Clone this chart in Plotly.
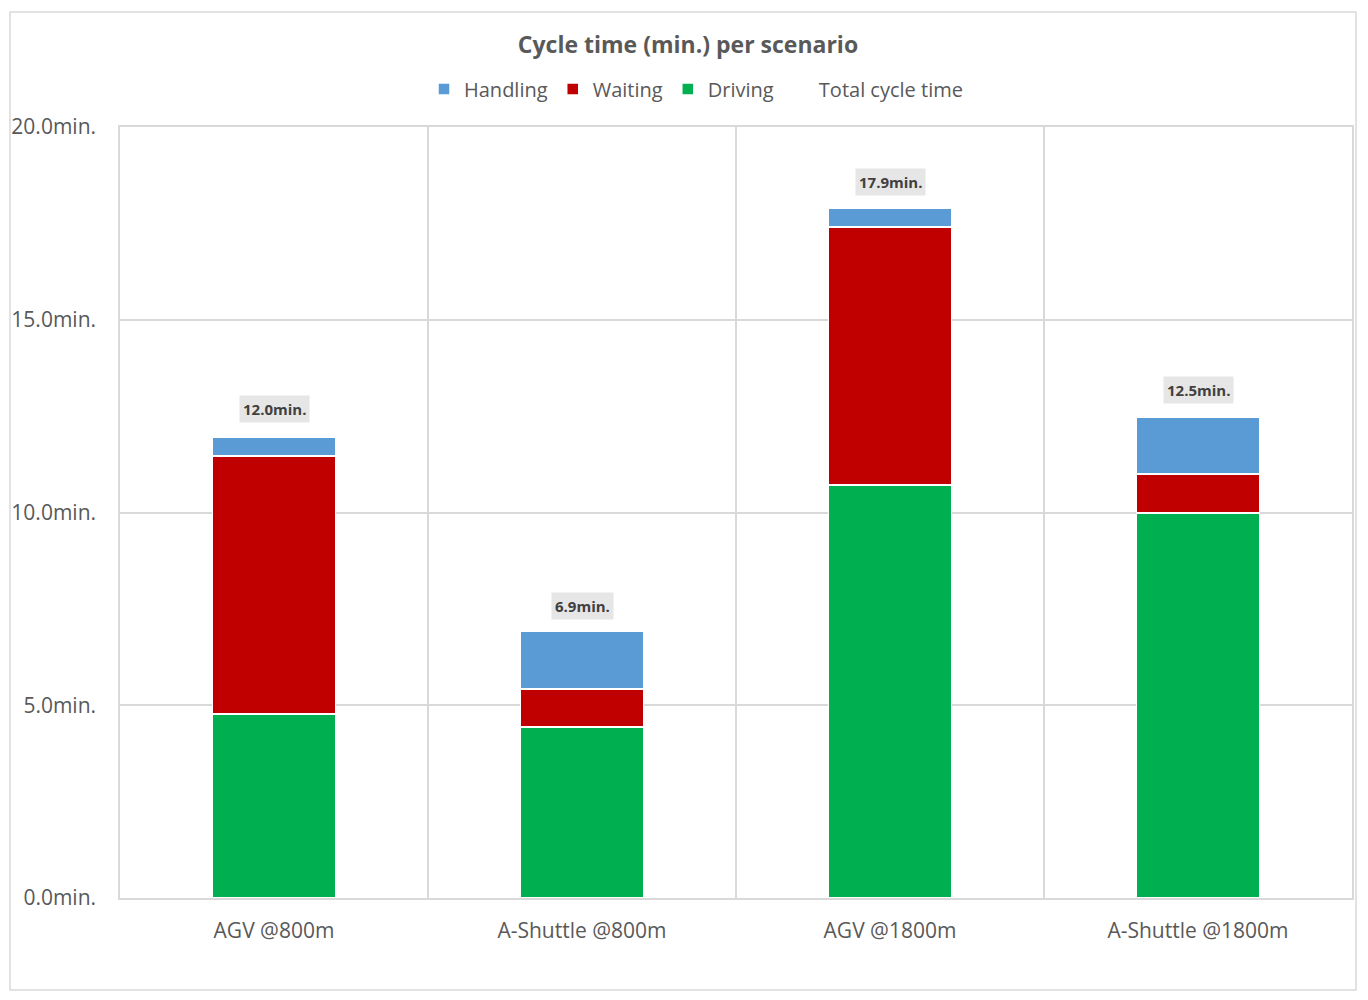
import plotly.graph_objects as go

categories = ["AGV @800m", "A-Shuttle @800m", "AGV @1800m", "A-Shuttle @1800m"]
driving = [4.77, 4.44, 10.71, 9.99]
waiting = [6.70, 0.98, 6.70, 1.01]
handling = [0.48, 1.50, 0.49, 1.48]
totals = [12.0, 6.9, 17.9, 12.5]
total_labels = ["12.0min.", "6.9min.", "17.9min.", "12.5min."]
y_ticks = [0, 5, 10, 15, 20]
y_tick_labels = ["0.0min.", "5.0min.", "10.0min.", "15.0min.", "20.0min."]

FONT = "Open Sans, sans-serif"
GREY = "#595959"
x = list(range(len(categories)))

fig = go.Figure()
fig.add_bar(x=x, y=driving, name="Driving", marker=dict(color="#00b050", line=dict(color="white", width=1.5)), width=0.4, legendrank=3)
fig.add_bar(x=x, y=waiting, name="Waiting", marker=dict(color="#c00000", line=dict(color="white", width=1.5)), width=0.4, legendrank=2)
fig.add_bar(x=x, y=handling, name="Handling", marker=dict(color="#5b9bd5", line=dict(color="white", width=1.5)), width=0.4, legendrank=1)
fig.add_scatter(x=x, y=totals, name="Total cycle time", mode="lines",
                line=dict(color="rgba(0,0,0,0)", width=0), legendrank=4, hoverinfo="skip")

for xi, t, lab in zip(x, totals, total_labels):
    fig.add_annotation(x=xi, y=t, text="<b>" + lab + "</b>", showarrow=False, yshift=26,
                       bgcolor="#e7e6e6", font=dict(family=FONT, size=15, color="#404040"),
                       borderpad=3)

fig.update_layout(
    barmode="stack",
    width=1360, height=985,
    margin=dict(l=112, r=16, t=119, b=95),
    paper_bgcolor="white", plot_bgcolor="white",
    font=dict(family=FONT, color=GREY, size=20),
    title=dict(text="<b>Cycle time (min.) per scenario</b>", x=0.5, xanchor="center",
               y=1 - 37 / 985, yanchor="middle", font=dict(size=23, color=GREY, family=FONT)),
    legend=dict(orientation="h", x=0.5 - 40 / 1232, xanchor="center", y=1 + 38 / 771, yanchor="middle",
                font=dict(size=20, color=GREY), traceorder="normal", itemwidth=30),
    showlegend=True,
    bargap=0.6,
)
fig.update_xaxes(range=[-0.5, 3.5], tickvals=x, ticktext=categories, showgrid=False,
                 minor=dict(tick0=0.5, dtick=1, showgrid=True, gridcolor="#d9d9d9", gridwidth=1.5, ticks=""),
                 showline=True, linecolor="#d9d9d9", linewidth=1.5, mirror=True, ticks="",
                 tickfont=dict(size=21, color=GREY), zeroline=False, ticklabelstandoff=13,
                 automargin=False)
fig.update_yaxes(range=[0, 20], tickvals=y_ticks, ticktext=y_tick_labels, showgrid=True,
                 gridcolor="#d9d9d9", gridwidth=1.5, showline=True, linecolor="#d9d9d9", linewidth=1.5,
                 mirror=True, ticks="", tickfont=dict(size=21, color=GREY), zeroline=False,
                 ticklabelstandoff=18, automargin=False)

fig.add_shape(type="rect", xref="paper", yref="paper",
              x0=-110 / 1232, x1=1 + 4 / 1232, y0=-92 / 771, y1=1 + 115 / 771,
              line=dict(color="#d9d9d9", width=1.5), fillcolor="rgba(0,0,0,0)", layer="below")

fig.write_html("out.html")
